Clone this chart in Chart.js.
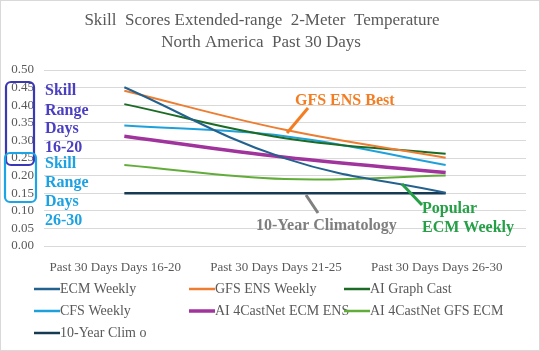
<!DOCTYPE html>
<html><head><meta charset="utf-8">
<script src="https://cdn.jsdelivr.net/npm/chart.js@4"></script>
<style>html,body{margin:0;padding:0;background:#fff}#w{width:540px;height:351px;position:relative;box-sizing:border-box;border:1px solid #d9d9d9}</style>
</head><body><div id="w"><canvas id="c" width="538" height="349"></canvas></div>
<script>
const categories = ["Past 30 Days Days 16-20","Past 30 Days Days 21-25","Past 30 Days Days 26-30"];
const ecmWeekly = [0.451,0.249,0.151];
const gfsEnsWeekly = [0.441,0.330,0.251];
const aiGraphCast = [0.403,0.306,0.262];
const cfsWeekly = [0.342,0.312,0.230];
const ai4CastNetEcmEns = [0.312,0.252,0.209];
const ai4CastNetGfsEcm = [0.230,0.190,0.200];
const climo10 = [0.15,0.15,0.15];
const yTicks = [0,0.05,0.1,0.15,0.2,0.25,0.3,0.35,0.4,0.45,0.5];
const seriesNames = ["ECM Weekly","GFS ENS Weekly","AI Graph Cast","CFS Weekly","AI 4CastNet ECM ENS","AI 4CastNet GFS ECM","10-Year Clim o"];
const seriesData = [ecmWeekly,gfsEnsWeekly,aiGraphCast,cfsWeekly,ai4CastNetEcmEns,ai4CastNetGfsEcm,climo10];
const colors = ["#23628f","#ed7d31","#1c6b24","#1ea1da","#a0339c","#62ad3a","#153a52"];
const widths = [2,2,2,2,3.5,2,2.5];

const SERIF = '"Liberation Serif","Times New Roman",serif';
const overlay = {
  id:'overlay',
  afterDraw(chart){
    const ctx = chart.ctx;
    ctx.save();
    ctx.fillStyle = '#595959';
    ctx.font = '17px '+SERIF;
    ctx.textAlign='center'; ctx.textBaseline='middle';
    ctx.fillText('Skill  Scores Extended-range  2-Meter  Temperature', 261, 20);
    ctx.fillText('North America  Past 30 Days', 260, 42);
    ctx.font = '14px '+SERIF;
    ctx.textAlign='left';
    const cols=[33,188,343], rows=[288,310,332];
    chart.data.datasets.forEach((ds,i)=>{
      const x=cols[i%3], y=rows[Math.floor(i/3)];
      ctx.strokeStyle=ds.borderColor; ctx.lineWidth=Math.max(2.5,ds.borderWidth);
      ctx.beginPath(); ctx.moveTo(x,y); ctx.lineTo(x+26,y); ctx.stroke();
      ctx.fillStyle='#595959';
      ctx.fillText(ds.label, x+26, y);
    });
    function rr(x,y,w,h,r,c){ctx.strokeStyle=c;ctx.lineWidth=2.2;ctx.beginPath();ctx.roundRect(x,y,w,h,r);ctx.stroke();}
    rr(5,81,28,83,5,'#3b38b8');
    rr(4,152,31,49,5,'#1ba4e6');
    ctx.font='bold 16px '+SERIF;
    ctx.fillStyle='#4a3fc2';
    ['Skill','Range','Days','16-20'].forEach((t,i)=>ctx.fillText(t,44,[90,110,128,147][i]));
    ctx.fillStyle='#1ca2e2';
    ['Skill','Range','Days','26-30'].forEach((t,i)=>ctx.fillText(t,44,[163,182,201,220][i]));
    ctx.lineWidth=3;
    ctx.strokeStyle='#f47d22'; ctx.beginPath(); ctx.moveTo(307,107); ctx.lineTo(286,132); ctx.stroke();
    ctx.fillStyle='#f47d22'; ctx.fillText('GFS ENS Best',294,100);
    ctx.strokeStyle='#808080'; ctx.beginPath(); ctx.moveTo(305,194); ctx.lineTo(317,212); ctx.stroke();
    ctx.fillStyle='#7f7f7f'; ctx.fillText('10-Year Climatology',255,225);
    ctx.strokeStyle='#25a047'; ctx.beginPath(); ctx.moveTo(401,183); ctx.lineTo(421,204); ctx.stroke();
    ctx.fillStyle='#25a047'; ctx.fillText('Popular',421,208); ctx.fillText('ECM Weekly',421,227);
    ctx.restore();
  }
};

new Chart(document.getElementById('c'),{
  type:'line',
  data:{labels:categories,datasets:seriesNames.map((n,i)=>({label:n,data:seriesData[i],borderColor:colors[i],backgroundColor:colors[i],borderWidth:widths[i],pointRadius:0,tension:0.4,fill:false}))},
  options:{
    responsive:false,animation:false,
    layout:{padding:{top:69,right:13,left:0,bottom:0}},
    plugins:{legend:{display:false},title:{display:false},tooltip:{enabled:false}},
    scales:{
      x:{offset:true,grid:{display:false},border:{display:false},
         ticks:{color:'#595959',font:{family:SERIF,size:13},maxRotation:0,autoSkip:false,labelOffset:-9,padding:6},
         afterFit(s){s.height=104;}},
      y:{min:0,max:0.5,border:{display:false},grid:{color:'#d9d9d9',drawTicks:false},
         afterBuildTicks(s){s.ticks=yTicks.map(v=>({value:v}));},
         ticks:{color:'#595959',font:{family:SERIF,size:13},padding:10,autoSkip:false,callback:v=>v.toFixed(2)},
         afterFit(s){s.width=43;}}
    }
  },
  plugins:[overlay]
});
</script></body></html>
